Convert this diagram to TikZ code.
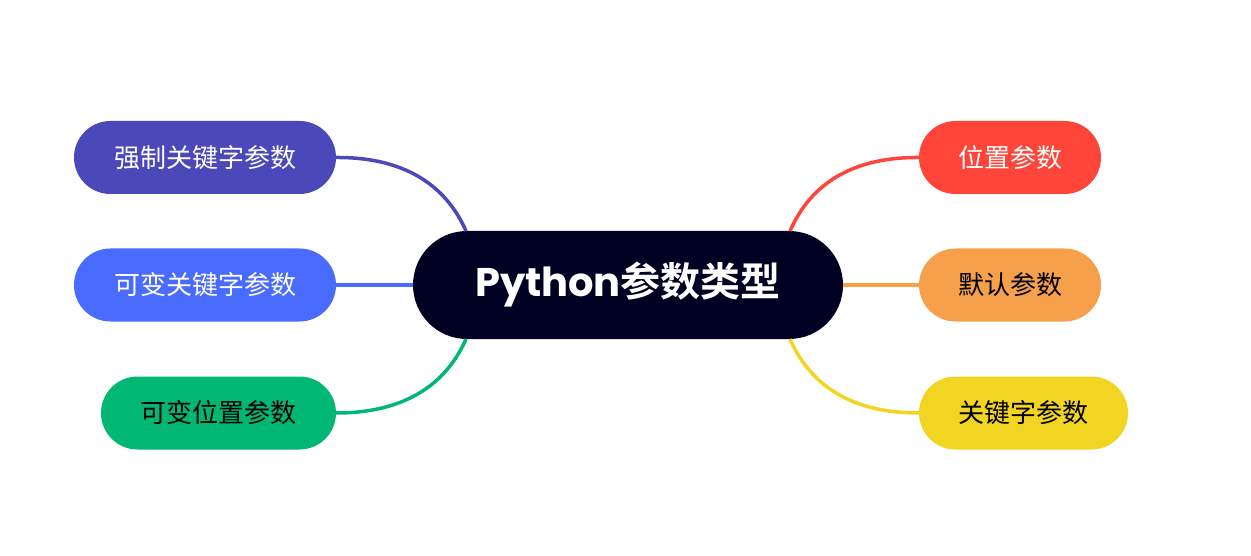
\documentclass[tikz,border=0pt]{standalone}
\usepackage{fontspec}
\newfontfamily\cjk{Noto Sans CJK SC}
\newfontfamily\cjkb{Noto Sans CJK SC Bold}
\newfontfamily\latb{Poppins Bold}
\definecolor{cnavy}{HTML}{000022}
\definecolor{cpurp}{HTML}{4B48BA}
\definecolor{cblue}{HTML}{4A6BFF}
\definecolor{cgreen}{HTML}{00B874}
\definecolor{cred}{HTML}{FF453A}
\definecolor{corange}{HTML}{F7A04B}
\definecolor{cyellow}{HTML}{F2D422}
\begin{document}
\begin{tikzpicture}[x=1pt,y=-1pt,
  leaf/.style={rounded corners=36.5pt,minimum height=73pt,inner sep=0pt,font=\cjk\fontsize{26}{30}\selectfont},
  conn/.style={line width=3.5pt}]
\useasboundingbox (0,0) rectangle (1251,556);
\node[fill=cnavy,text=white,rounded corners=54pt,minimum width=430pt,minimum height=108pt,inner sep=0pt,font=\fontsize{40}{44}\selectfont] (c) at (628,285) {{\latb Python}{\cjkb 参数类型}};
\node[leaf,fill=cpurp,text=white,minimum width=262pt] (l1) at (205,157.5) {强制关键字参数};
\node[leaf,fill=cblue,text=white,minimum width=262pt] (l2) at (205,285) {可变关键字参数};
\node[leaf,fill=cgreen,text=black,minimum width=235pt] (l3) at (218.5,413) {可变位置参数};
\node[leaf,fill=cred,text=white,minimum width=182pt] (r1) at (1010,157.5) {位置参数};
\node[leaf,fill=corange,text=black,minimum width=182pt] (r2) at (1010,285) {默认参数};
\node[leaf,fill=cyellow,text=black,minimum width=209pt] (r3) at (1023.5,413) {关键字参数};
\coordinate (ctl) at (466,231);
\coordinate (cbl) at (466,339);
\coordinate (ctr) at (790,231);
\coordinate (cbr) at (790,339);
\begin{scope}[on background layer/.try]
\draw[conn,cpurp] (l1.east) .. controls (410,157) and (448,190) .. (ctl);
\draw[conn,cblue] (l2.east) -- (c.west);
\draw[conn,cgreen] (l3.east) .. controls (410,413) and (448,380) .. (cbl);
\draw[conn,cred] (r1.west) .. controls (845,157) and (808,190) .. (ctr);
\draw[conn,corange] (r2.west) -- (c.east);
\draw[conn,cyellow] (r3.west) .. controls (845,413) and (808,380) .. (cbr);
\end{scope}
\end{tikzpicture}
\end{document}
